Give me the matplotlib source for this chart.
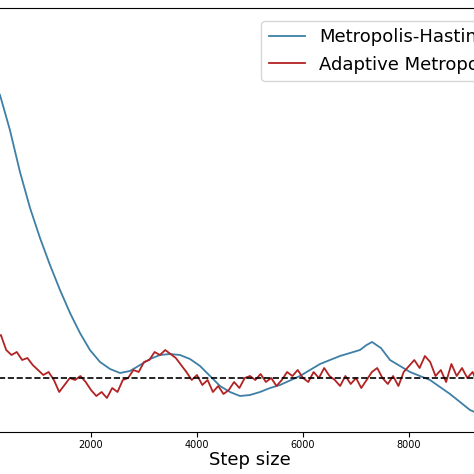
import numpy as np
import matplotlib.pyplot as plt

blue_x = [0, 283, 470, 660, 850, 1038, 1226, 1415, 1604, 1792, 1980, 2170, 2360, 2547, 2736, 2925,
          3114, 3302, 3490, 3679, 3868, 4057, 4246, 4434, 4622, 4811, 5000, 5189, 5378,
          5566, 5943, 6321, 6698, 7075, 7200, 7302, 7470, 7642, 8019, 8396, 8774, 9151, 9500, 10000]
blue_pix = [70, 95, 130, 172, 208, 238, 265, 290, 313, 333, 350, 362, 369, 373, 371, 365,
            359, 355, 354, 355, 359, 366, 376, 386, 392, 396, 395, 392, 388,
            385, 376, 364, 356, 350, 345, 342, 348, 360, 372, 380, 394, 410, 418, 424]
blue_y = [432 - p for p in blue_pix]

red_pix = [340, 345, 338, 335,
           350, 355, 352, 360, 358, 365, 370,
           375, 372, 380, 392, 385, 378, 380, 376, 382, 390,
           396, 392, 398, 388, 392, 380, 378, 370, 372, 362,
           360, 352, 355, 350, 354, 358, 365, 372, 380, 375,
           385, 380, 392, 386, 394, 390, 382, 388, 378, 376,
           380, 374, 382, 378, 386, 380, 372, 376, 370, 378,
           382, 372, 378, 368, 376, 380, 386, 376, 384, 378,
           388, 380, 372, 368, 378, 384, 376, 386, 372, 366,
           360, 368, 356, 362, 376, 370, 382, 364, 376, 368,
           378, 372, 384, 370, 376, 380, 372, 378, 374, 376]
red_x = np.arange(len(red_pix)) * 100
red_y = [432 - p for p in red_pix]
target = 432 - 378

fig = plt.figure(figsize=(4.74, 4.74), dpi=100)
ax = fig.add_axes([-15 / 474, 42 / 474, 530 / 474, 424 / 474])
ax.plot(blue_x, blue_y, color='#3d7fa6', lw=1.3, label='Metropolis-Hastings')
ax.plot(red_x, red_y, color='#b22222', lw=1.3, label='Adaptive Metropolis')
ax.axhline(target, color='black', ls='--', lw=1.2)
ax.set_xlim(0, 10000)
ax.set_ylim(0, 424)
ax.set_xticks([2000, 4000, 6000, 8000])
ax.tick_params(axis='x', labelsize=7, pad=2)
ax.set_yticks([])
ax.set_xlabel('Step size', fontsize=13, labelpad=1)
ax.legend(loc='upper right', fontsize=13, bbox_to_anchor=(1.0, 0.99))
fig.savefig('out.png', dpi=100)
